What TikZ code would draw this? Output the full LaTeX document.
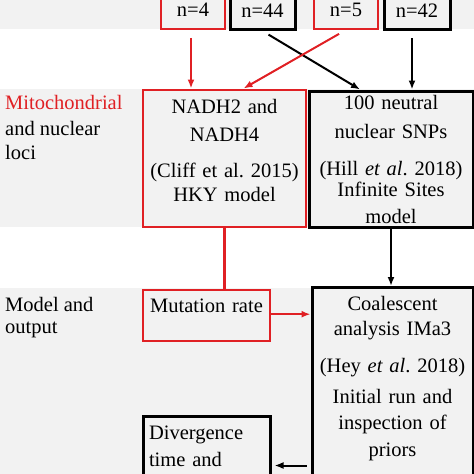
\documentclass[tikz,border=0pt]{standalone}
\usepackage{fontspec}
\setmainfont{Liberation Serif}
\usetikzlibrary{arrows.meta,positioning}
\definecolor{mtred}{RGB}{224,32,36}
\definecolor{bandgray}{RGB}{242,242,242}

\begin{document}
\begin{tikzpicture}[
    x=1pt, y=-1pt,
    font=\fontsize{20.5pt}{25pt}\selectfont\frenchspacing,
    band/.style={fill=bandgray, draw=none},
    box/.style={draw, line width=3pt, inner sep=0pt, anchor=north, align=center},
    redbox/.style={box, draw=mtred, line width=2.4pt},
    lbl/.style={anchor=base west, align=left, inner sep=0pt},
    arrow/.style={-{Latex[length=9pt,width=7pt]}, line width=2pt},
    redarrow/.style={arrow, draw=mtred, color=mtred}
  ]

    \useasboundingbox (0,0) rectangle (474,474);
    \clip (0,0) rectangle (474,474);

    % grey bands
    \fill[band] (0,-5) rectangle (474,29);
    \fill[band] (0,89) rectangle (474,227);
    \fill[band] (0,288) rectangle (474,480);

    % row labels (base = last line)
    \node[lbl] (loci) at (5,159) {\textcolor{mtred}{Mitochondrial}\\[0.7pt]and nuclear\\[-1pt]loci};
    \node[lbl] (model) at (5,333.3) {Model and\\[-3pt]output};

    % sample boxes
    \node[redbox, text width=64pt, text height=35.7pt, text depth=11.8pt] (n4) at (193,-20) {n=4};
    \node[box, text width=65pt, text height=35.7pt, text depth=12.3pt] (n44) at (262.5,-20) {n=44};
    \node[redbox, text width=64pt, text height=35.7pt, text depth=11.8pt] (n5) at (346,-20) {n=5};
    \node[box, text width=66pt, text height=35.7pt, text depth=12.3pt] (n42) at (417,-20) {n=42};

    % loci boxes
    \node[redbox, text width=163pt, text height=23.8pt, text depth=113.7pt] (nadh) at (224.5,88.5)
      {NADH2 and\\[2.7pt]NADH4\\[11.7pt](Cliff et al. 2015)\\[-1.7pt]HKY model};
    \node[box, text width=164pt, text height=18.8pt, text depth=117.7pt] (snps) at (391,89.5)
      {100 neutral\\[3.4pt]nuclear SNPs\\[12.6pt](Hill \textit{et al}. 2018)\\[-4.3pt]Infinite Sites\\[1.7pt]model};

    % model boxes
    \node[redbox, text width=127pt, text height=22.7pt, text depth=28.3pt] (mut) at (206.5,289) {Mutation rate};
    \node[box, text width=161pt, text height=23pt, text depth=181pt] (coal) at (392.5,286)
      {Coalescent\\analysis IMa3\\[12.4pt](Hey \textit{et al}. 2018)\\[6pt]Initial run and\\[0.6pt]inspection of\\[1.7pt]priors};
    \node[box, align=left, inner xsep=6pt, text width=115pt, text height=23.3pt, text depth=51.7pt] (div) at (206.5,415)
      {Divergence\\[1.7pt]time and};

    % connectors
    \draw[redarrow, shorten <=8pt] ([xshift=-2pt]n4.south) -- ([xshift=-2pt]n4.south |- nadh.north);
    \draw[arrow, shorten <=7pt] (n44.south) -- ([xshift=-31pt]snps.north);
    \draw[redarrow, shorten <=8pt] (n5.south) -- ([xshift=19pt]nadh.north);
    \draw[arrow, shorten <=7pt] ([xshift=-5pt]n42.south) -- ([xshift=-5pt]n42.south |- snps.north);

    \draw[mtred, line width=2.2pt] (nadh.south) -- (nadh.south |- mut.north);
    \draw[arrow] (snps.south) -- (snps.south |- coal.north);
    \draw[redarrow] ([yshift=1.5pt]mut.east) -- ([yshift=1.5pt]mut.east -| coal.west);
    \draw[arrow, shorten <=4pt, shorten >=3pt] ([yshift=-11.5pt]div.east -| coal.west) -- ([yshift=-11.5pt]div.east);

  \end{tikzpicture}
\end{document}
